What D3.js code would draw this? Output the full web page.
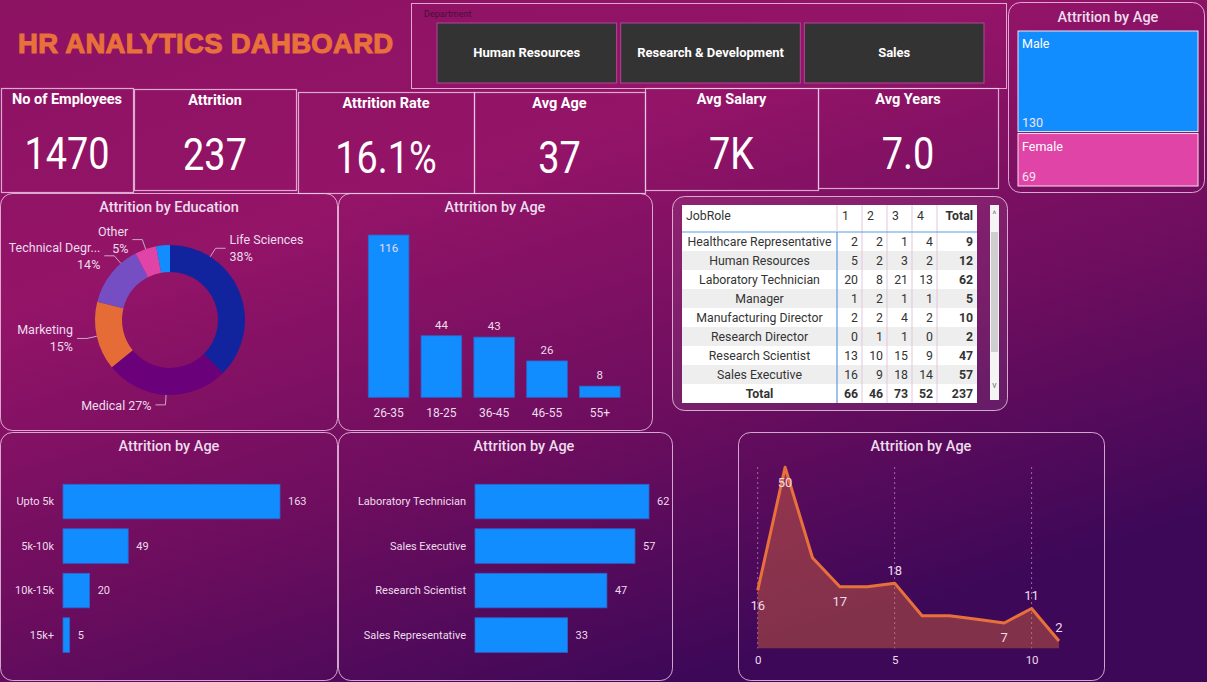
<!DOCTYPE html>
<html>
<head>
<meta charset="utf-8">
<script src="https://cdn.jsdelivr.net/npm/d3@7"></script>
<style>
  body { margin: 0; background: #3c0858; overflow: hidden; }
  text { font-family: Roboto, "Open Sans", sans-serif; }
</style>
</head>
<body>
<div id="chart"></div>
<script>
// ---- data ----
const kpiTitles = ["No of Employees", "Attrition", "Attrition Rate", "Avg Age", "Avg Salary", "Avg Years"];
const kpiValues = ["1470", "237", "16.1%", "37", "7K", "7.0"];

const departments = ["Human Resources", "Research & Development", "Sales"];

const genders = ["Male", "Female"];
const genderAttrition = [130, 69];

const eduFields = ["Life Sciences", "Medical", "Marketing", "Technical Degree", "Other", "Human Resources"];
const eduAttrition = [89, 63, 35, 32, 11, 7];

const ageGroups = ["26-35", "18-25", "36-45", "46-55", "55+"];
const ageAttrition = [116, 44, 43, 26, 8];

const salaryBands = ["Upto 5k", "5k-10k", "10k-15k", "15k+"];
const salaryAttrition = [163, 49, 20, 5];

const topRoles = ["Laboratory Technician", "Sales Executive", "Research Scientist", "Sales Representative"];
const topRoleAttrition = [62, 57, 47, 33];

const years = [0, 1, 2, 3, 4, 5, 6, 7, 8, 9, 10, 11];
const yearsAttrition = [16, 50, 25, 17, 17, 18, 9, 9, 8, 7, 11, 2];

const tableRoles = ["Healthcare Representative", "Human Resources", "Laboratory Technician", "Manager",
  "Manufacturing Director", "Research Director", "Research Scientist", "Sales Executive"];
const satisfactionLevels = ["1", "2", "3", "4"];
const tableValues = [
  [2, 2, 1, 4], [5, 2, 3, 2], [20, 8, 21, 13], [1, 2, 1, 1],
  [2, 2, 4, 2], [0, 1, 1, 0], [13, 10, 15, 9], [16, 9, 18, 14]
];
const tableColTotals = [66, 46, 73, 52];
const tableGrandTotal = 237;

// ---- look ----
const W = 1207, H = 682;
const txt = "#ecdcec";
const edge = "rgba(240,205,235,0.8)";
const blue = "#118dff";
const eduColors = ["#12239e", "#6b007b", "#e66c37", "#744ec2", "#e044a7", "#118dff"];

const svg = d3.select("#chart").append("svg").attr("width", W).attr("height", H);
const defs = svg.append("defs");
const grad = defs.append("linearGradient").attr("id", "bg")
  .attr("x1", "0").attr("y1", "0").attr("x2", "0.55").attr("y2", "1");
[["0", "#8c1262"], ["0.35", "#941468"], ["0.7", "#6c0d5e"], ["1", "#3e0858"]].forEach(s =>
  grad.append("stop").attr("offset", s[0]).attr("stop-color", s[1]));
svg.append("rect").attr("width", W).attr("height", H).attr("fill", "url(#bg)");

function panel(x, y, w, h, title, tx, ty, fill) {
  svg.append("rect").attr("x", x + 0.5).attr("y", y + 0.5).attr("width", w).attr("height", h)
    .attr("rx", 12).attr("fill", fill || "none").attr("stroke", edge).attr("stroke-width", 1);
  if (title) {
    svg.append("text").attr("x", tx).attr("y", ty).attr("text-anchor", "middle")
      .attr("dominant-baseline", "middle").attr("fill", txt)
      .attr("font-size", 14.5).attr("font-weight", 500).text(title);
  }
}

// ---- title ----
svg.append("text").attr("x", 18).attr("y", 53)
  .style("font-family", "'Liberation Sans', Arial, sans-serif")
  .attr("font-size", 27.5).attr("font-weight", 700).attr("fill", "#e8703a")
  .attr("stroke", "#e8703a").attr("stroke-width", 1.1).attr("letter-spacing", 0.3)
  .text("HR ANALYTICS DAHBOARD");

// ---- department slicer ----
svg.append("rect").attr("x", 411.5).attr("y", 3.5).attr("width", 595).attr("height", 85)
  .attr("fill", "none").attr("stroke", edge);
svg.append("text").attr("x", 424).attr("y", 17).attr("font-size", 9).attr("fill", "#4a0f3c").text("Department");
const deptX = d3.scaleBand().domain(departments).range([437, 984]).paddingInner(0.022);
const btn = svg.selectAll(".btn").data(departments).join("g").attr("class", "btn");
btn.append("rect").attr("x", d => deptX(d)).attr("y", 23).attr("width", deptX.bandwidth()).attr("height", 60)
  .attr("fill", "#333333").attr("stroke", "#b0479a");
btn.append("text").attr("x", d => deptX(d) + deptX.bandwidth() / 2).attr("y", 54)
  .attr("text-anchor", "middle").attr("dominant-baseline", "middle")
  .attr("font-size", 13).attr("font-weight", 700).attr("fill", "#fff").text(d => d);

// ---- KPI cards ----
const kpiBoxes = [[1, 88, 132, 104], [134, 89, 162, 101], [298, 92, 176, 101],
  [474, 92, 171, 101], [645, 88, 173, 102], [818, 88, 180, 100]];
kpiBoxes.forEach((b, i) => {
  svg.append("rect").attr("x", b[0] + 0.5).attr("y", b[1] + 0.5).attr("width", b[2]).attr("height", b[3])
    .attr("fill", "none").attr("stroke", edge).attr("stroke-width", 1.2);
  const cx = b[0] + b[2] / 2;
  svg.append("text").attr("x", cx).attr("y", b[1] + 12).attr("text-anchor", "middle")
    .attr("dominant-baseline", "middle").attr("font-size", 14.5).attr("font-weight", 700)
    .attr("fill", "#fff").text(kpiTitles[i]);
  svg.append("g").attr("transform", `translate(${cx},${b[1] + 81}) scale(0.86,1)`)
    .append("text").attr("text-anchor", "middle").attr("font-size", 44).attr("fill", "#fff")
    .text(kpiValues[i]);
});

// ---- gender treemap ----
panel(1008, 2, 196, 190, "Attrition by Age", 1108, 18);
const root = d3.hierarchy({ children: genders.map((g, i) => ({ name: g, value: genderAttrition[i] })) })
  .sum(d => d.value || 0);
d3.treemap().tile(d3.treemapSlice).size([180, 155]).paddingInner(2)(root);
const tm = svg.append("g").attr("transform", "translate(1018,31)");
const leaf = tm.selectAll("g").data(root.leaves()).join("g");
leaf.append("rect").attr("x", d => d.x0).attr("y", d => d.y0)
  .attr("width", d => d.x1 - d.x0).attr("height", d => d.y1 - d.y0)
  .attr("fill", (d, i) => i === 0 ? blue : "#e044a7").attr("stroke", "#f3e3f0");
leaf.append("text").attr("x", d => d.x0 + 4).attr("y", d => d.y0 + 17)
  .attr("font-size", 12.5).attr("fill", "#fff").text(d => d.data.name);
leaf.append("text").attr("x", d => d.x0 + 4).attr("y", d => d.y1 - 5)
  .attr("font-size", 12.5).attr("fill", "#f4e4f0").text(d => d.data.value);

// ---- education donut ----
panel(0, 193, 337, 237, "Attrition by Education", 169, 208);
const eduTotal = d3.sum(eduAttrition);
const pie = d3.pie().sort(null).value(d => d)(eduAttrition);
const rOut = 75, rIn = 48;
const arc = d3.arc().innerRadius(rIn).outerRadius(rOut);
const donut = svg.append("g").attr("transform", "translate(170,320)");
donut.selectAll("path").data(pie).join("path").attr("d", arc).attr("fill", (d, i) => eduColors[i]);
// where along each slice its leader line starts (Power BI nudges some labels)
const labelAt = [0.24, 0.5, 0.5, 0.72, 0.5, null];
const pct = d3.format(".0%");
pie.forEach((d, i) => {
  if (labelAt[i] === null) return;
  const a = d.startAngle + (d.endAngle - d.startAngle) * labelAt[i];
  const s = Math.sin(a), c = -Math.cos(a);
  const p0 = [rOut * s, rOut * c], p1 = [(rOut + 10) * s, (rOut + 10) * c];
  const dir = s >= 0 ? 1 : -1;
  const p2 = [p1[0] + dir * 10, p1[1]];
  donut.append("polyline").attr("points", [p0, p1, p2].map(p => p.join(",")).join(" "))
    .attr("fill", "none").attr("stroke", "#c9a8c6").attr("stroke-width", 1);
  const name = eduFields[i].length > 14 ? eduFields[i].slice(0, 14) + "..." : eduFields[i];
  const t = donut.append("text").attr("x", p2[0] + dir * 4).attr("text-anchor", dir > 0 ? "start" : "end")
    .attr("font-size", 12.5).attr("fill", txt).attr("dominant-baseline", "middle");
  const share = pct(eduAttrition[i] / eduTotal);
  if (eduFields[i] === "Medical") {
    t.attr("y", p2[1] + 2).text(name + " " + share);
  } else {
    t.append("tspan").attr("x", p2[0] + dir * 4).attr("y", p2[1] - 7).text(name);
    t.append("tspan").attr("x", p2[0] + dir * 4).attr("y", p2[1] + 10).text(share);
  }
});

// ---- age columns ----
panel(338, 193, 314, 237, "Attrition by Age", 495, 208);
const ax = d3.scaleBand().domain(ageGroups).range([362.2, 626.2]).paddingInner(0.23).paddingOuter(0.115);
const ay = d3.scaleLinear().domain([0, 116]).range([397.3, 235]);
const cols = svg.append("g");
cols.selectAll("rect").data(ageGroups).join("rect")
  .attr("x", d => ax(d)).attr("y", (d, i) => ay(ageAttrition[i]))
  .attr("width", ax.bandwidth()).attr("height", (d, i) => ay(0) - ay(ageAttrition[i]))
  .attr("fill", blue).attr("stroke", "#2f62c8").attr("stroke-width", 0.8);
cols.selectAll(".v").data(ageGroups).join("text")
  .attr("x", d => ax(d) + ax.bandwidth() / 2)
  .attr("y", (d, i) => i === 0 ? ay(ageAttrition[i]) + 14 : ay(ageAttrition[i]) - 10)
  .attr("text-anchor", "middle").attr("dominant-baseline", "middle")
  .attr("font-size", 11.5).attr("fill", txt).text((d, i) => ageAttrition[i]);
svg.append("g").attr("transform", `translate(0,${ay(0)})`)
  .call(d3.axisBottom(ax).tickSize(0).tickPadding(11))
  .call(g => g.select(".domain").remove())
  .call(g => g.selectAll("text").attr("font-size", 12).attr("fill", txt).style("font-family", "Roboto"));

// ---- job role x satisfaction table ----
panel(672, 196, 335, 214, null, 0, 0, "rgba(255,255,255,0.07)");
const colEdges = [682, 837, 862, 887, 912, 937, 977];
const headH = 27, rowH = 19, tY = 205;
const tbl = svg.append("g");
tbl.append("rect").attr("x", 682).attr("y", tY).attr("width", 295).attr("height", headH + rowH * 9).attr("fill", "#fff");
tableRoles.forEach((r, i) => {
  tbl.append("rect").attr("x", 682).attr("y", tY + headH + i * rowH).attr("width", 295).attr("height", rowH)
    .attr("fill", i % 2 ? "#eeeeee" : "#ffffff");
});
colEdges.slice(2, 6).forEach(x => tbl.append("line").attr("x1", x).attr("x2", x)
  .attr("y1", tY).attr("y2", tY + headH + rowH * 9).attr("stroke", "#e3c7dd"));
tbl.append("line").attr("x1", 682).attr("x2", 977).attr("y1", tY + headH).attr("y2", tY + headH)
  .attr("stroke", "#5b9be0").attr("stroke-width", 1.2);
tbl.append("line").attr("x1", 837).attr("x2", 837).attr("y1", tY).attr("y2", tY + headH)
  .attr("stroke", "#e3c7dd");
tbl.append("line").attr("x1", 837).attr("x2", 837).attr("y1", tY + headH).attr("y2", tY + headH + rowH * 9)
  .attr("stroke", "#5b9be0").attr("stroke-width", 1.2);
const cell = (x, y, s, anchor, bold) => tbl.append("text").attr("x", x).attr("y", y)
  .attr("text-anchor", anchor).attr("dominant-baseline", "middle").attr("font-size", 12.3)
  .attr("font-weight", bold ? 700 : 400).attr("fill", "#333").text(s);
cell(686, tY + 12, "JobRole", "start");
satisfactionLevels.forEach((s, j) => cell(colEdges[j + 1] + 5, tY + 12, s, "start"));
cell(973, tY + 12, "Total", "end", true);
tableRoles.forEach((r, i) => {
  const y = tY + headH + i * rowH + rowH / 2 + 1;
  cell((682 + 837) / 2, y, r, "middle");
  tableValues[i].forEach((v, j) => cell(colEdges[j + 2] - 4, y, v, "end"));
  cell(973, y, d3.sum(tableValues[i]), "end", true);
});
const totY = tY + headH + 8 * rowH + rowH / 2 + 1;
cell((682 + 837) / 2, totY, "Total", "middle", true);
tableColTotals.forEach((v, j) => cell(colEdges[j + 2] - 4, totY, v, "end", true));
cell(973, totY, tableGrandTotal, "end", true);
// scrollbar
tbl.append("rect").attr("x", 990).attr("y", tY).attr("width", 9).attr("height", 195).attr("fill", "#f4f4f4");
tbl.append("rect").attr("x", 991).attr("y", tY + 27).attr("width", 7).attr("height", 120).attr("fill", "#cfcfcf");
tbl.append("text").attr("x", 994.5).attr("y", tY + 12).attr("text-anchor", "middle").attr("font-size", 9).attr("fill", "#777").text("^");
tbl.append("text").attr("x", 994.5).attr("y", tY + 183).attr("text-anchor", "middle").attr("font-size", 9).attr("fill", "#777").text("v");

// ---- horizontal bar helper ----
function hbars(cats, vals, xRange, labelX) {
  const y = d3.scaleBand().domain(cats).range([479.3, 657.3]).paddingInner(0.224).paddingOuter(0.112);
  const x = d3.scaleLinear().domain([0, d3.max(vals)]).range(xRange);
  const g = svg.append("g");
  g.selectAll("rect").data(cats).join("rect")
    .attr("x", x(0)).attr("y", d => y(d)).attr("height", y.bandwidth())
    .attr("width", (d, i) => x(vals[i]) - x(0))
    .attr("fill", blue).attr("stroke", "#2f62c8").attr("stroke-width", 0.8);
  g.selectAll(".v").data(cats).join("text")
    .attr("x", (d, i) => x(vals[i]) + 8).attr("y", d => y(d) + y.bandwidth() / 2 + 1)
    .attr("dominant-baseline", "middle").attr("font-size", 11).attr("fill", txt).text((d, i) => vals[i]);
  g.append("g").attr("transform", `translate(${labelX},0)`)
    .call(d3.axisLeft(y).tickSize(0).tickPadding(0))
    .call(a => a.select(".domain").remove())
    .call(a => a.selectAll("text").attr("font-size", 11).attr("fill", txt).style("font-family", "Roboto"));
}

panel(0, 432, 337, 248, "Attrition by Age", 169, 447);
hbars(salaryBands, salaryAttrition, [63, 280], 54);

panel(338, 432, 334, 248, "Attrition by Age", 524, 447);
hbars(topRoles, topRoleAttrition, [475, 649], 466);

// ---- years area chart ----
panel(738, 432, 366, 248, "Attrition by Age", 921, 447);
const lx = d3.scaleLinear().domain([0, 11]).range([757.7, 1059]);
const ly = d3.scaleLinear().domain([0, 50]).range([648.3, 467.3]);
const ag = svg.append("g");
[0, 5, 10].forEach(t => ag.append("line").attr("x1", lx(t)).attr("x2", lx(t))
  .attr("y1", ly(50)).attr("y2", ly(0)).attr("stroke", "#b98ab8").attr("stroke-dasharray", "1.5,3.5"));
ag.append("path").datum(years)
  .attr("d", d3.area().x(d => lx(d)).y0(ly(0)).y1((d, i) => ly(yearsAttrition[i])))
  .attr("fill", "#e8703a").attr("fill-opacity", 0.4);
ag.append("path").datum(years)
  .attr("d", d3.line().x(d => lx(d)).y((d, i) => ly(yearsAttrition[i])))
  .attr("fill", "none").attr("stroke", "#e8703a").attr("stroke-width", 3).attr("stroke-linejoin", "round");
// which points carry a data label, and on which side
const yearLabelSide = ["below", "below", null, "below", null, "above", null, null, null, "below", "above", "above"];
years.forEach((d, i) => {
  const side = yearLabelSide[i];
  if (!side) return;
  ag.append("text").attr("x", lx(d)).attr("y", ly(yearsAttrition[i]) + (side === "below" ? 16 : -12))
    .attr("text-anchor", "middle").attr("dominant-baseline", "middle")
    .attr("font-size", 13).attr("fill", txt).text(yearsAttrition[i]);
});
ag.append("g").attr("transform", `translate(0,${ly(0)})`)
  .call(d3.axisBottom(lx).tickValues([0, 5, 10]).tickSize(0).tickPadding(8))
  .call(a => a.select(".domain").remove())
  .call(a => a.selectAll("text").attr("font-size", 11.5).attr("fill", txt).style("font-family", "Roboto"));
</script>
</body>
</html>
